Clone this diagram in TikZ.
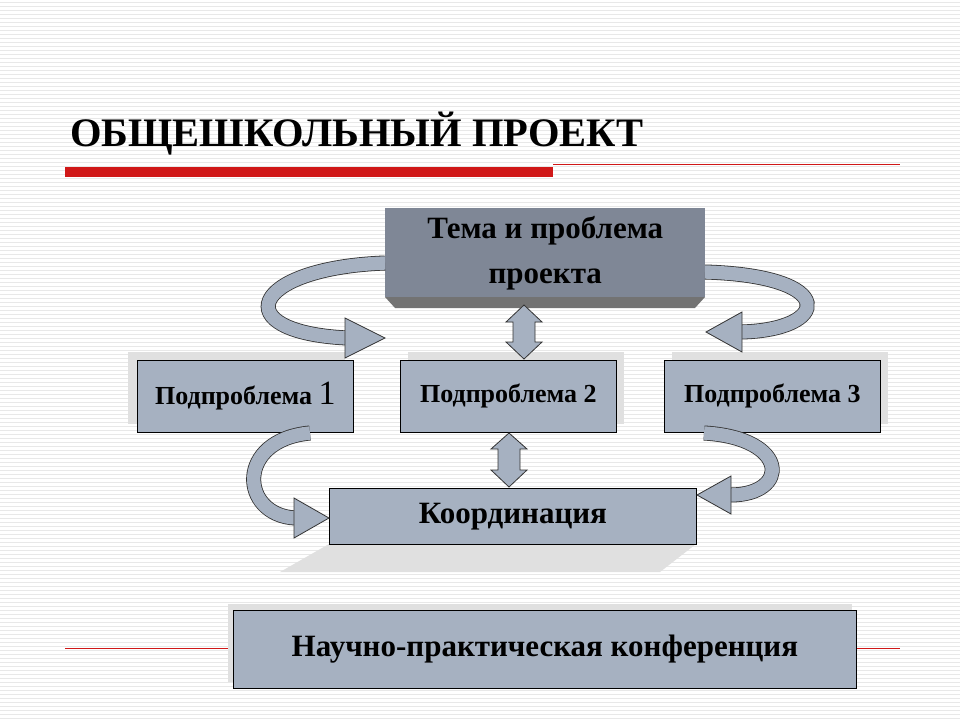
\documentclass[tikz,border=0pt]{standalone}
\usepackage{fontspec}
\setmainfont{Liberation Serif}
\begin{document}
\begin{tikzpicture}[x=1pt,y=-1pt,
  box/.style={draw=black,line width=0.8pt,fill=boxc,inner sep=0pt,font=\bfseries},
  sub/.style={box,minimum width=216,minimum height=72,anchor=north west,font=\bfseries\fontsize{26}{28}\selectfont},
  shad/.style={fill=black!12,draw=none},
  band/.style={line width=15pt,draw=black!80},
  bandin/.style={line width=13.4pt,draw=boxc},
  head/.style={fill=boxc,draw=black!80,line width=0.8pt}]
\definecolor{boxc}{HTML}{A6B1C1}
\definecolor{topc}{HTML}{7F8796}
\definecolor{redc}{HTML}{D01818}
\useasboundingbox (0,0) rectangle (960,720);
\fill[white] (0,0) rectangle (960,720);
\foreach \y in {2,6,...,718} \draw[black!9,line width=0.8pt] (0,\y) -- (960,\y);
% title
\node[anchor=base west,font=\bfseries\fontsize{40.5}{42}\selectfont,inner sep=0pt] (title) at (70,146) {ОБЩЕШКОЛЬНЫЙ ПРОЕКТ};
\fill[redc] (65,167) rectangle (553,177);
\draw[redc,line width=0.6pt] (553,164) -- (900,164);
\draw[redc,line width=0.6pt] (65,648) -- (900,648);
% top box bevel
\fill[black!55] (385,297) -- (705,297) -- (695,308) -- (395,308) -- cycle;
\node[fill=topc,minimum width=320,minimum height=89,anchor=north west,inner sep=0pt,
  font=\bfseries\fontsize{31}{45}\selectfont,align=center] (top) at (385,208) {Тема и проблема\\проекта};
% shadows
\fill[shad] (128,352) rectangle (345,424);
\fill[shad] (408,352) rectangle (624,424);
\fill[shad] (672,352) rectangle (888,424);
\fill[shad] (329,544) -- (696,544) -- (660,572) -- (280,572) -- cycle;
\fill[shad] (228,604) rectangle (852,682);
% sub boxes
\node[sub] (s1) at (137,360) {Подпроблема {\fontsize{34}{34}\selectfont\mdseries 1}};
\node[sub] (s2) at (400,360) {Подпроблема 2};
\node[sub] (s3) at (664,360) {Подпроблема 3};
\node[box,minimum width=367,minimum height=56,anchor=north west,font=\bfseries\fontsize{31}{34}\selectfont] (co) at (329,488) {Координация};
\node[box,minimum width=623,minimum height=78,anchor=north west,font=\bfseries\fontsize{31}{34}\selectfont] (conf) at (233,610) {Научно-практическая конференция};
% double arrows
\draw[head] (506,322) -- (524,305) -- (542,322) -- (535,322) -- (535,342) -- (542,342) -- (524,359) -- (506,342) -- (513,342) -- (513,322) -- cycle;
\draw[head] (491,449) -- (509,433) -- (527,449) -- (520,449) -- (520,470) -- (527,470) -- (509,487) -- (491,470) -- (498,470) -- (498,449) -- cycle;
% curved arrows
\coordinate (l1) at (385,263); \coordinate (l1e) at (347,338);
\draw[band] (l1) .. controls (250,268) and (225,332) .. (l1e);
\draw[bandin] (l1) .. controls (250,268) and (225,332) .. (l1e);
\draw[head] (345,318) -- (385,338) -- (345,358) -- cycle;
\coordinate (r1) at (705,272); \coordinate (r1e) at (741,332);
\draw[band] (r1) .. controls (840,276) and (830,330) .. (r1e);
\draw[bandin] (r1) .. controls (840,276) and (830,330) .. (r1e);
\draw[head] (742,312) -- (706,332) -- (742,352) -- cycle;
\coordinate (l2) at (310,433); \coordinate (l2e) at (295,518);
\draw[band] (l2) .. controls (235,440) and (240,515) .. (l2e);
\draw[bandin] (l2) .. controls (235,440) and (240,515) .. (l2e);
\draw[head] (294,498) -- (329,518) -- (294,538) -- cycle;
\coordinate (r2) at (704,433); \coordinate (r2e) at (730,495);
\draw[band] (r2) .. controls (790,438) and (790,495) .. (r2e);
\draw[bandin] (r2) .. controls (790,438) and (790,495) .. (r2e);
\draw[head] (731,476) -- (697,495) -- (731,514) -- cycle;
\end{tikzpicture}
\end{document}
